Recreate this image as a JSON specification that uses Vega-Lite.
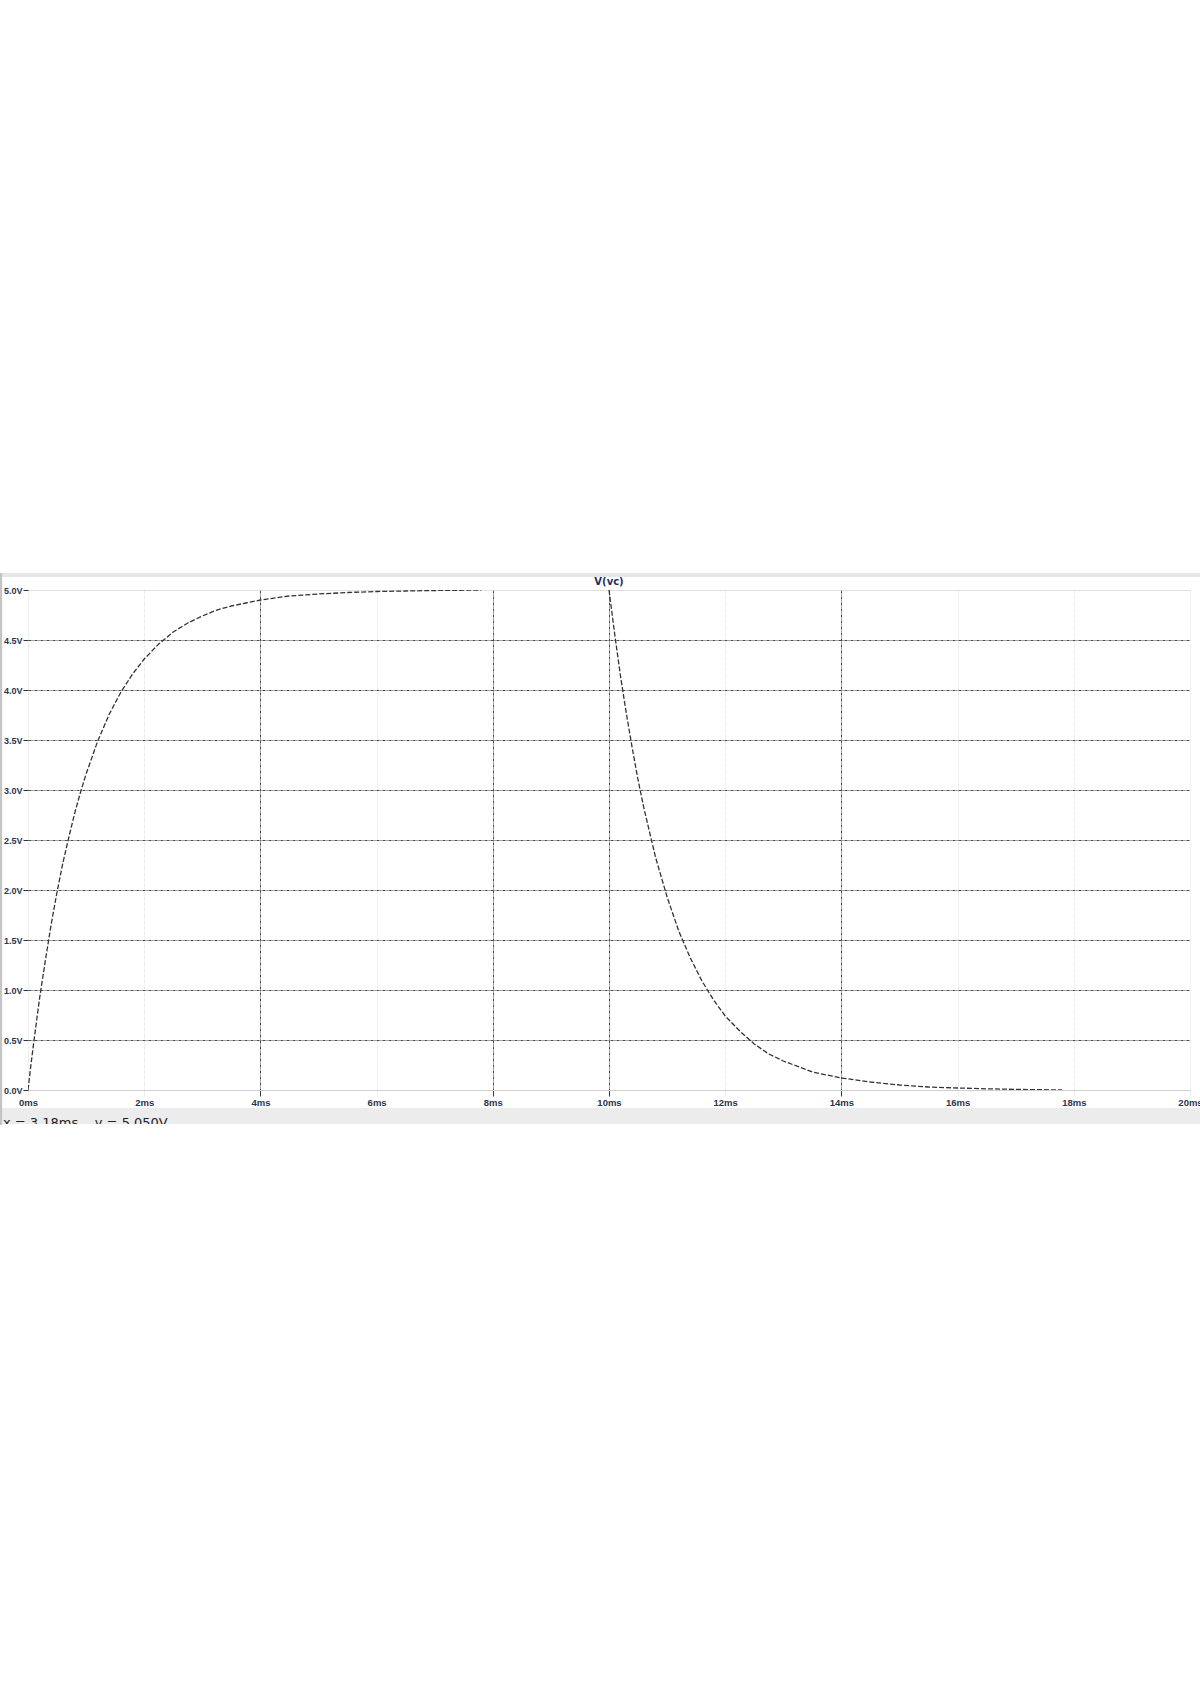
{
  "$schema": "https://vega.github.io/schema/vega-lite/v6.json",
  "width": 1162,
  "height": 500,
  "autosize": {"type": "none"},
  "padding": {"left": 28, "top": 590, "right": 10, "bottom": 600},
  "background": "white",
  "config": {"view": {"stroke": null}, "font": "Liberation Sans"},
  "data": {
    "values": [
      {"seg": "charge", "t": 0.0, "v": 0.0},
      {"seg": "charge", "t": 0.05, "v": 0.25},
      {"seg": "charge", "t": 0.1, "v": 0.48},
      {"seg": "charge", "t": 0.2, "v": 0.92},
      {"seg": "charge", "t": 0.3, "v": 1.3},
      {"seg": "charge", "t": 0.4, "v": 1.66},
      {"seg": "charge", "t": 0.5, "v": 1.98},
      {"seg": "charge", "t": 0.6, "v": 2.27},
      {"seg": "charge", "t": 0.7, "v": 2.52},
      {"seg": "charge", "t": 0.8, "v": 2.76},
      {"seg": "charge", "t": 0.9, "v": 2.97},
      {"seg": "charge", "t": 1.0, "v": 3.16},
      {"seg": "charge", "t": 1.2, "v": 3.49},
      {"seg": "charge", "t": 1.4, "v": 3.76},
      {"seg": "charge", "t": 1.6, "v": 3.98},
      {"seg": "charge", "t": 1.8, "v": 4.16},
      {"seg": "charge", "t": 2.0, "v": 4.31},
      {"seg": "charge", "t": 2.25, "v": 4.46},
      {"seg": "charge", "t": 2.5, "v": 4.58},
      {"seg": "charge", "t": 2.75, "v": 4.67},
      {"seg": "charge", "t": 3.0, "v": 4.74},
      {"seg": "charge", "t": 3.25, "v": 4.8},
      {"seg": "charge", "t": 3.5, "v": 4.84},
      {"seg": "charge", "t": 3.75, "v": 4.87},
      {"seg": "charge", "t": 4.0, "v": 4.9},
      {"seg": "charge", "t": 4.5, "v": 4.94},
      {"seg": "charge", "t": 5.0, "v": 4.96},
      {"seg": "charge", "t": 5.5, "v": 4.975},
      {"seg": "charge", "t": 6.0, "v": 4.985},
      {"seg": "charge", "t": 6.5, "v": 4.99},
      {"seg": "charge", "t": 7.0, "v": 4.995},
      {"seg": "charge", "t": 7.8, "v": 5.0},
      {"seg": "discharge", "t": 10.0, "v": 5.0},
      {"seg": "discharge", "t": 10.1, "v": 4.55},
      {"seg": "discharge", "t": 10.2, "v": 4.13},
      {"seg": "discharge", "t": 10.3, "v": 3.76},
      {"seg": "discharge", "t": 10.4, "v": 3.42},
      {"seg": "discharge", "t": 10.5, "v": 3.1},
      {"seg": "discharge", "t": 10.6, "v": 2.82},
      {"seg": "discharge", "t": 10.8, "v": 2.33},
      {"seg": "discharge", "t": 11.0, "v": 1.93},
      {"seg": "discharge", "t": 11.2, "v": 1.59},
      {"seg": "discharge", "t": 11.4, "v": 1.32},
      {"seg": "discharge", "t": 11.6, "v": 1.09},
      {"seg": "discharge", "t": 11.8, "v": 0.9},
      {"seg": "discharge", "t": 12.0, "v": 0.74},
      {"seg": "discharge", "t": 12.25, "v": 0.59},
      {"seg": "discharge", "t": 12.5, "v": 0.46},
      {"seg": "discharge", "t": 12.75, "v": 0.36},
      {"seg": "discharge", "t": 13.0, "v": 0.29},
      {"seg": "discharge", "t": 13.5, "v": 0.18},
      {"seg": "discharge", "t": 14.0, "v": 0.12},
      {"seg": "discharge", "t": 14.5, "v": 0.08},
      {"seg": "discharge", "t": 15.0, "v": 0.05},
      {"seg": "discharge", "t": 15.5, "v": 0.03},
      {"seg": "discharge", "t": 16.0, "v": 0.02},
      {"seg": "discharge", "t": 16.5, "v": 0.012},
      {"seg": "discharge", "t": 17.0, "v": 0.006},
      {"seg": "discharge", "t": 17.8, "v": 0.0}
    ]
  },
  "layer": [
    {
      "mark": {"type": "line", "color": "#333333", "strokeWidth": 1.3, "strokeDash": [5, 2], "clip": true},
      "encoding": {
        "x": {
          "field": "t",
          "type": "quantitative",
          "scale": {"domain": [0, 20], "nice": false, "zero": false},
          "axis": {
            "title": null,
            "values": [0, 2, 4, 6, 8, 10, 12, 14, 16, 18, 20],
            "labelExpr": "datum.value + 'ms'",
            "labelFont": "Liberation Sans",
            "labelFontSize": 9.5,
            "labelFontWeight": "bold",
            "labelColor": "#2a3550",
            "labelPadding": 1,
            "labelFlush": false,
            "labelOverlap": false,
            "domainColor": "#d0d0d0",
            "domainWidth": 1,
            "grid": true,
            "gridDash": [3, 1, 1, 1],
            "gridWidth": 1,
            "gridColor": {
              "condition": {"test": "indexof([4, 8, 10, 14], datum.value) >= 0", "value": "#4a4a4a"},
              "value": "#e8e8e8"
            },
            "tickSize": 6,
            "tickColor": {
              "condition": {"test": "indexof([4, 8, 10, 14], datum.value) >= 0", "value": "#3a3a3a"},
              "value": "#eeeeee"
            }
          }
        },
        "y": {
          "field": "v",
          "type": "quantitative",
          "scale": {"domain": [0, 5], "nice": false, "zero": false},
          "axis": {
            "title": null,
            "values": [0, 0.5, 1, 1.5, 2, 2.5, 3, 3.5, 4, 4.5, 5],
            "labelExpr": "format(datum.value, '.1f') + 'V'",
            "labelFont": "Liberation Sans",
            "labelFontSize": 9,
            "labelFontWeight": "bold",
            "labelColor": "#2a3550",
            "labelPadding": 1,
            "labelFlush": false,
            "labelOverlap": false,
            "domain": false,
            "grid": true,
            "gridWidth": 1,
            "gridColor": {
              "condition": {"test": "datum.value == 0 || datum.value == 5", "value": "#d4d4d4"},
              "value": "#4a4a4a"
            },
            "gridDash": {
              "condition": {"test": "datum.value == 0 || datum.value == 5", "value": [1, 0]},
              "value": [3, 1, 1, 1]
            },
            "tickSize": 5,
            "tickColor": "#333333"
          }
        },
        "detail": {"field": "seg"}
      }
    },
    {
      "data": {"values": [{}]},
      "mark": {"type": "rect", "color": "#ececec"},
      "encoding": {
        "x": {"datum": -0.482, "type": "quantitative"},
        "x2": {"datum": 20.2},
        "y": {"datum": -0.18, "type": "quantitative"},
        "y2": {"datum": -0.34}
      }
    },
    {
      "data": {"values": [{}]},
      "mark": {"type": "rect", "color": "#e6e6e6"},
      "encoding": {
        "x": {"datum": -0.482, "type": "quantitative"},
        "x2": {"datum": 20.2},
        "y": {"datum": 5.13, "type": "quantitative"},
        "y2": {"datum": 5.17}
      }
    },
    {
      "data": {"values": [{}]},
      "mark": {"type": "text", "align": "center", "baseline": "middle", "font": "DejaVu Sans", "fontSize": 10, "fontWeight": "bold", "color": "#23305a"},
      "encoding": {
        "x": {"datum": 10.0, "type": "quantitative"},
        "y": {"datum": 5.085, "type": "quantitative"},
        "text": {"value": "V(vc)"}
      }
    },
    {
      "data": {"values": [{}]},
      "mark": {"type": "text", "align": "left", "baseline": "top", "font": "DejaVu Sans", "fontSize": 13, "color": "#222222"},
      "encoding": {
        "x": {"datum": -0.43, "type": "quantitative"},
        "y": {"datum": -0.27, "type": "quantitative"},
        "text": {"value": "x = 3.18ms\u00a0\u00a0\u00a0\u00a0y = 5.050V"}
      }
    },
    {
      "data": {"values": [{}]},
      "mark": {"type": "rect", "color": "white"},
      "encoding": {
        "x": {"datum": -0.482, "type": "quantitative"},
        "x2": {"datum": 20.2},
        "y": {"datum": -0.34, "type": "quantitative"},
        "y2": {"datum": -0.6}
      }
    },
    {
      "data": {"values": [{}]},
      "mark": {"type": "rect", "color": "#c4c4c4"},
      "encoding": {
        "x": {"datum": -0.482, "type": "quantitative"},
        "x2": {"datum": -0.445},
        "y": {"datum": 5.17, "type": "quantitative"},
        "y2": {"datum": -0.35}
      }
    }
  ]
}
